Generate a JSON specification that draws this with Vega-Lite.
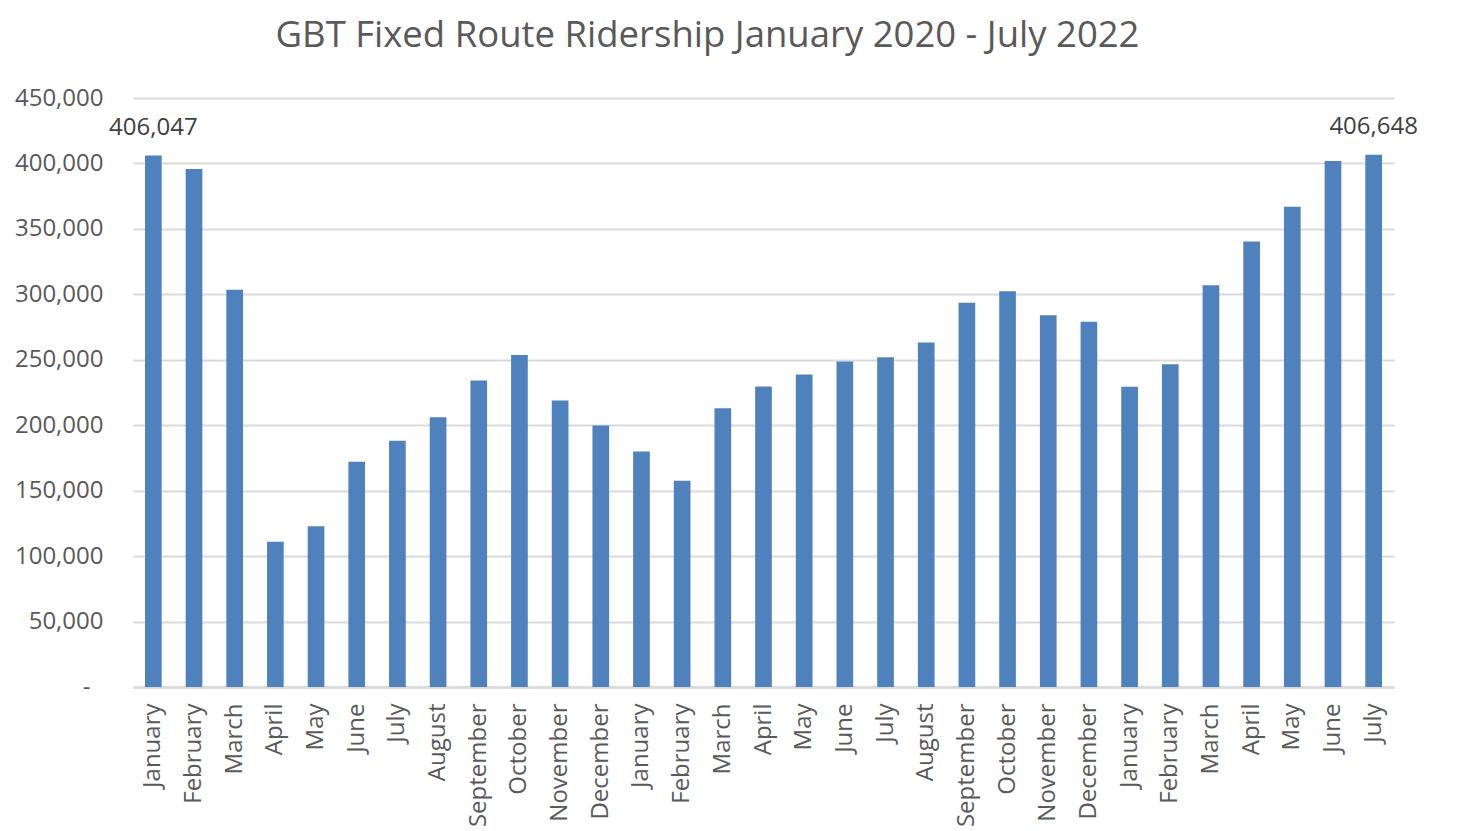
{
  "$schema": "https://vega.github.io/schema/vega-lite/v6.json",
  "width": 1261,
  "height": 589,
  "autosize": {"type": "none"},
  "padding": {"left": 133, "top": 98, "right": 65, "bottom": 144},
  "background": "white",
  "title": {
    "text": "GBT Fixed Route Ridership January 2020 - July 2022",
    "font": "Open Sans",
    "fontSize": 36.5,
    "fontWeight": "normal",
    "color": "#595959",
    "anchor": "middle",
    "dx": -56,
    "baseline": "alphabetic",
    "offset": 3
  },
  "config": {
    "view": {"stroke": null},
    "font": "Open Sans"
  },
  "data": {
    "values": [
      {"period": "2020-01", "riders": 406047},
      {"period": "2020-02", "riders": 395700},
      {"period": "2020-03", "riders": 303500},
      {"period": "2020-04", "riders": 110900},
      {"period": "2020-05", "riders": 122800},
      {"period": "2020-06", "riders": 172000},
      {"period": "2020-07", "riders": 188100},
      {"period": "2020-08", "riders": 206100},
      {"period": "2020-09", "riders": 234200},
      {"period": "2020-10", "riders": 253700},
      {"period": "2020-11", "riders": 218800},
      {"period": "2020-12", "riders": 199700},
      {"period": "2021-01", "riders": 180000},
      {"period": "2021-02", "riders": 157600},
      {"period": "2021-03", "riders": 212900},
      {"period": "2021-04", "riders": 229500},
      {"period": "2021-05", "riders": 238700},
      {"period": "2021-06", "riders": 248700},
      {"period": "2021-07", "riders": 251900},
      {"period": "2021-08", "riders": 263200},
      {"period": "2021-09", "riders": 293500},
      {"period": "2021-10", "riders": 302400},
      {"period": "2021-11", "riders": 284100},
      {"period": "2021-12", "riders": 279000},
      {"period": "2022-01", "riders": 229400},
      {"period": "2022-02", "riders": 246600},
      {"period": "2022-03", "riders": 307000},
      {"period": "2022-04", "riders": 340400},
      {"period": "2022-05", "riders": 367000},
      {"period": "2022-06", "riders": 401800},
      {"period": "2022-07", "riders": 406648}
    ]
  },
  "encoding": {
    "x": {
      "field": "period",
      "type": "ordinal",
      "sort": null,
      "scale": {"paddingInner": 0.59, "paddingOuter": 0.295},
      "axis": {
        "title": null,
        "labelExpr": "utcFormat(toDate(datum.value + '-15'), '%B')",
        "labelAngle": 270,
        "labelAlign": "right",
        "labelBaseline": "middle",
        "labelFont": "Open Sans",
        "labelFontSize": 24,
        "labelColor": "#595959",
        "labelPadding": 16,
        "ticks": false,
        "domain": true,
        "domainColor": "#D9D9D9",
        "domainWidth": 2.5,
        "grid": false
      }
    },
    "y": {
      "field": "riders",
      "type": "quantitative",
      "scale": {"domain": [0, 450000], "nice": false},
      "axis": {
        "title": null,
        "values": [0, 50000, 100000, 150000, 200000, 250000, 300000, 350000, 400000, 450000],
        "labelExpr": "datum.value == 0 ? '-' : format(datum.value, ',')",
        "labelFont": "Open Sans",
        "labelFontSize": 24,
        "labelColor": "#595959",
        "labelPadding": {"condition": {"test": "datum.value == 0", "value": 43}, "value": 30},
        "ticks": false,
        "domain": false,
        "grid": true,
        "gridColor": "#D9D9D9",
        "gridWidth": 2
      }
    }
  },
  "layer": [
    {
      "mark": {"type": "bar", "color": "#4F81BD"}
    },
    {
      "transform": [
        {"filter": "datum.period == '2020-01' || datum.period == '2022-07'"}
      ],
      "mark": {
        "type": "text",
        "baseline": "alphabetic",
        "dy": -21,
        "font": "Open Sans",
        "fontSize": 24,
        "color": "#404040"
      },
      "encoding": {
        "text": {"field": "riders", "type": "quantitative", "format": ","}
      }
    }
  ]
}
